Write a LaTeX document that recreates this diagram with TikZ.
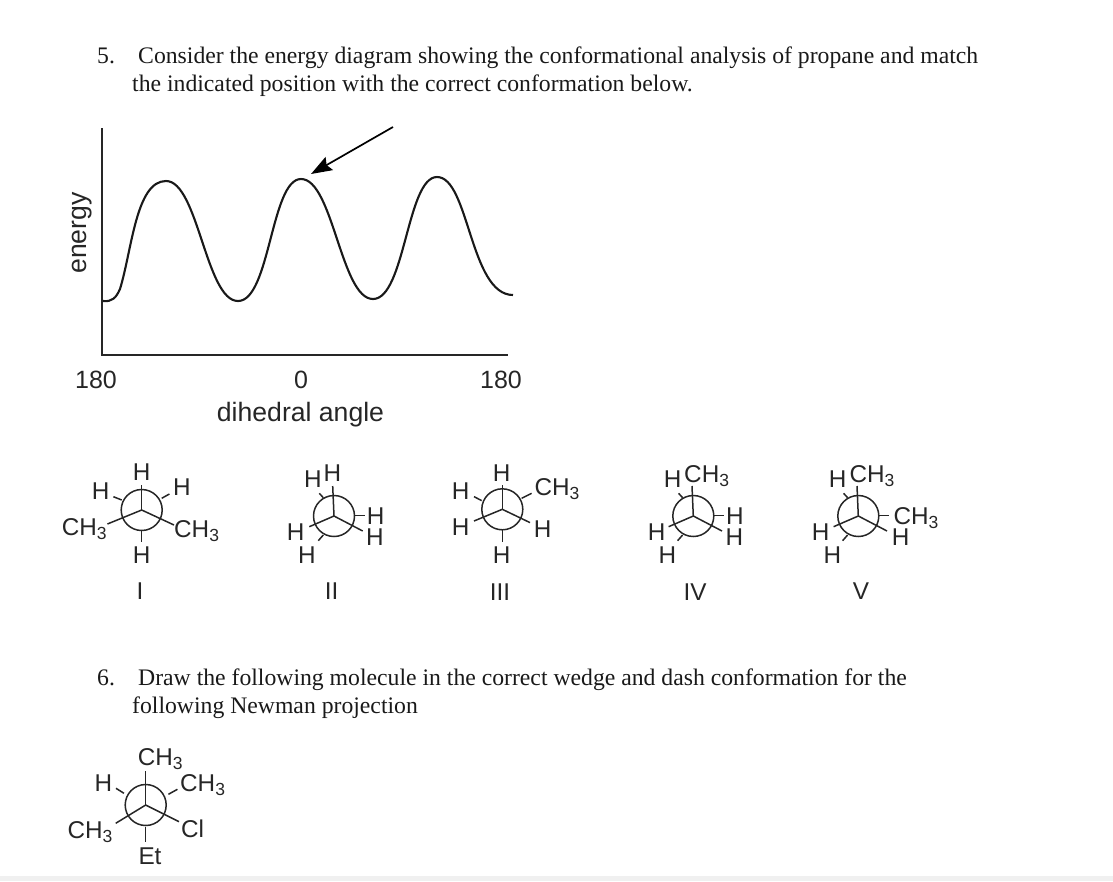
\documentclass[tikz,border=0pt]{standalone}
\usepackage{fontspec}
\setmainfont{Liberation Serif}
\newfontfamily\lab{Liberation Sans}
\usetikzlibrary{arrows.meta}
\newcommand\CHthree{CH\raisebox{-4pt}{\fontsize{17.5}{18}\selectfont 3}}
\newcommand\nmfig[3]{\begin{scope}[shift={(#1)}]
  \draw[bond] (0,0) circle[radius=20.5];
  \foreach \a/\b in #2 {\draw[bond] (0,0)--(\a,\b);}
  \foreach \a/\b/\c/\d in #3 {\draw[bond] (\a,\b)--(\c,\d);}
\end{scope}}
\newcommand\stagF{0/-25,-34.3/14,32.3/15}
\newcommand\stagB{-28.3/-13.3/-20/-10,20/-11.7/27.7/-16,0/20/0/31.7}
\newcommand\eclF{-1.3/-30,-24.7/10.7,28.7/15}
\newcommand\eclB{-14.7/-22.7/-10.7/-18.3,21/-0.3/31/-0.3,-15.7/24.7/-10.7/19}
\newcommand\thirdF{0/-24.3,-28.3/11.7,27.7/13.3}
\newcommand\thirdB{-28.3/-12.7/-20.7/-8.7,19.3/-11/29.3/-16,0/20.7/0/33}
\newcommand\lastF{0/-34,-30/18.3,33.3/16.7}
\newcommand\lastB{-29.7/-16.7/-21.7/-11.7,22.7/-10.7/31.7/-15.7,0/21.7/0/37.3}
\tikzset{
  bond/.style={line width=1.5pt,draw=black!85},
  axisline/.style={line width=1.9pt,draw=black!85},
  curveline/.style={line width=2.1pt,draw=black!90},
  body/.style={inner sep=0pt,anchor=base west,font=\fontsize{23.7}{28}\selectfont,text=black!90},
  sans/.style={inner sep=0pt,anchor=base,font=\lab\fontsize{25}{30}\selectfont,text=black!85},
  sanswide/.style={sans,font=\lab\fontsize{26.6}{30}\selectfont},
  atom/.style={inner sep=0pt,anchor=base,font=\lab\fontsize{24.3}{28}\selectfont,text=black!85},
  atoml/.style={atom,anchor=base west},
  pointer/.style={line width=1.7pt,-{Stealth[length=21pt,width=15pt,inset=3pt]}}
}
\begin{document}
\begin{tikzpicture}[x=1pt,y=-1pt]
\useasboundingbox (0,0) rectangle (1113,881);
\fill[black!6] (0,875.5) rectangle (1113,881);
% question text
\node[body] (q5n) at (97,63) {5.};
\node[body] (q5a) at (138,63) {Consider the energy diagram showing the conformational analysis of propane and match};
\node[body] (q5b) at (132,91) {the indicated position with the correct conformation below.};
\node[body] (q6n) at (97,685) {6.};
\node[body] (q6a) at (138,685) {Draw the following molecule in the correct wedge and dash conformation for the};
\node[body] (q6b) at (132,713) {following Newman projection};
% energy diagram
\coordinate (ytop) at (102,128);
\coordinate (origin) at (102,355);
\coordinate (xend) at (508,355);
\draw[axisline] (ytop) -- (origin) -- (xend);
\draw[curveline] (103,301) .. controls (112,302) and (116,298) .. (120,289)
  .. controls (132,250) and (136,181) .. (166,181)
  .. controls (198,181) and (206,301) .. (238,301)
  .. controls (270,301) and (271,179) .. (301,179)
  .. controls (333,179) and (341,299) .. (373,299)
  .. controls (405,299) and (407,177) .. (437,177)
  .. controls (469,177) and (470,295) .. (513,295);
\coordinate (arrowstart) at (393,127);
\coordinate (arrowend) at (311,174);
\draw[pointer] (arrowstart) -- (arrowend);
\node[sanswide,rotate=90] (ylabel) at (86,233) {energy};
\node[sans] (t1) at (96,388) {180};
\node[sans] (t2) at (301,388) {0};
\node[sans] (t3) at (501,388) {180};
\node[sanswide] (xlabel) at (300.5,421) {dihedral angle};
% I
\nmfig{141.7,510}{\stagF}{\stagB}
\node[atom] (a1) at (141.7,480) {H};
\node[atom] (a2) at (100.7,499) {H};
\node[atom] (a3) at (182,495) {H};
\node[atoml] (a4) at (61.7,535) {\CHthree};
\node[atoml] (a5) at (174,537.7) {\CHthree};
\node[atom] (a6) at (141.7,563.3) {H};
\node[atom] (r1) at (140,599) {I};
% II
\nmfig{334,516}{\eclF}{\eclB}
\node[atom] (b1) at (313,487.3) {H};
\node[atom] (b2) at (332.3,481.7) {H};
\node[atom] (b3) at (375.7,524) {H};
\node[atom] (b4) at (375,545) {H};
\node[atom] (b5) at (295.7,540.7) {H};
\node[atom] (b6) at (307,563.3) {H};
\node[atom] (r2) at (331.7,599) {II};
% III
\nmfig{502.3,509.3}{\thirdF}{\thirdB}
\node[atom] (c1) at (501.7,481) {H};
\node[atom] (c2) at (460.7,499.3) {H};
\node[atom] (c3) at (460.7,535) {H};
\node[atom] (c4) at (542.7,537.7) {H};
\node[atom] (c5) at (501.7,563.3) {H};
\node[atoml] (c6) at (534.3,495) {\CHthree};
\node[atom] (r3) at (500,600) {III};
% IV
\nmfig{693.3,516}{\eclF}{\eclB}
\node[atom] (d1) at (672.7,487.3) {H};
\node[atoml] (d2) at (684,482.3) {\CHthree};
\node[atom] (d3) at (735,524) {H};
\node[atom] (d4) at (734.3,545) {H};
\node[atom] (d5) at (656.7,540.7) {H};
\node[atom] (d6) at (667.3,563.3) {H};
\node[atom] (r4) at (695,600) {IV};
% V
\nmfig{858.3,516}{\eclF}{\eclB}
\node[atom] (e1) at (837.7,487.3) {H};
\node[atoml] (e2) at (849.3,482.3) {\CHthree};
\node[atoml] (e3) at (893.3,524) {\CHthree};
\node[atom] (e4) at (900.7,545) {H};
\node[atom] (e5) at (820.7,540.7) {H};
\node[atom] (e6) at (832.3,563.3) {H};
\node[atom] (r5) at (861,599.3) {V};
% Question 6 projection
\nmfig{145.7,805}{\lastF}{\lastB}
\node[atoml] (f1) at (137.7,765) {\CHthree};
\node[atom] (f2) at (103.3,791) {H};
\node[atoml] (f3) at (180,791.7) {\CHthree};
\node[atoml] (f4) at (67.3,838.3) {\CHthree};
\node[atoml] (f5) at (181,837.7) {Cl};
\node[atoml] (f6) at (138.3,864) {Et};
\end{tikzpicture}
\end{document}
